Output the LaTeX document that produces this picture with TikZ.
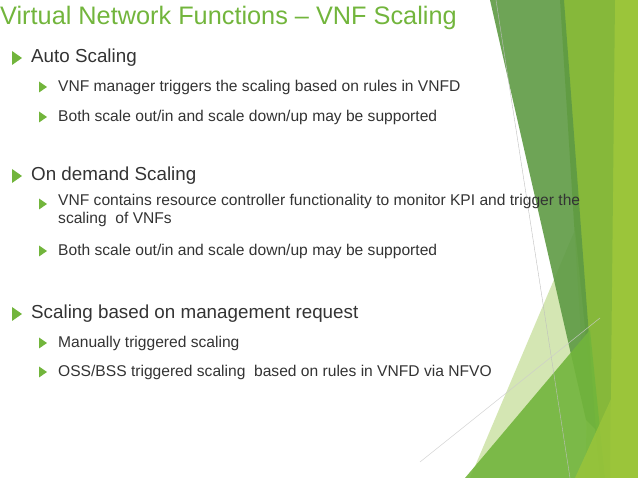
\documentclass[tikz,border=0pt]{standalone}
\usepackage{fontspec}
\setmainfont{Liberation Sans}
\begin{document}
\begin{tikzpicture}[x=1pt,y=-1pt]
\definecolor{tg}{HTML}{72B53C}
\definecolor{dg}{HTML}{5E9A44}
\definecolor{mg}{HTML}{86B83A}
\definecolor{lg}{HTML}{9BC53A}
\definecolor{pg}{HTML}{C9E0A0}
\tikzset{l1/.style={anchor=west,font=\fontsize{18.8}{22}\selectfont,text=black!80,inner sep=0},
 l2/.style={anchor=west,font=\fontsize{15.6}{18}\selectfont,text=black!80,inner sep=0,align=left},
 tri/.style={fill=tg}}
\useasboundingbox (0,0) rectangle (638,478);
\fill[lg] (600,0) -- (638,0) -- (638,478) -- (585,478) -- cycle;
\fill[mg] (560,0) -- (615,0) -- (610,478) -- (590,478) -- cycle;
\fill[pg,opacity=0.8] (470,478) -- (575,230) -- (600,478) -- cycle;
\fill[dg,opacity=0.9] (490,0) -- (564,0) -- (596,430) -- (586,420) -- cycle;
\fill[tg,opacity=0.9] (465,478) -- (590,330) -- (605,478) -- cycle;
\fill[lg,opacity=0.8] (575,478) -- (638,340) -- (638,478) -- cycle;
\draw[black!25,line width=0.4pt] (496,0) -- (570,478);
\draw[black!20,line width=0.4pt] (420,462) -- (600,318);
\node[anchor=west,inner sep=0,text=tg,font=\fontsize{25.3}{28}\selectfont] (t) at (0,18) {Virtual Network Functions – VNF Scaling};
\foreach \y in {58,176,314}{\fill[tri] (12,\y-7) -- (22,\y) -- (12,\y+7) -- cycle;}
\foreach \y in {87,117,204,251,343,372}{\fill[tri] (39,\y-5.5) -- (47,\y) -- (39,\y+5.5) -- cycle;}
\node[l1] (a) at (31,58) {Auto Scaling};
\node[l2] (a1) at (58,87) {VNF manager triggers the scaling based on rules in VNFD};
\node[l2] (a2) at (58,117) {Both scale out/in and scale down/up may be supported};
\node[l1] (b) at (31,176) {On demand Scaling};
\node[l2,anchor=north west] (b1) at (58,194) {VNF contains resource controller functionality to monitor KPI and trigger the\\scaling\ \ of VNFs};
\node[l2] (b2) at (58,251) {Both scale out/in and scale down/up may be supported};
\node[l1] (c) at (31,314) {Scaling based on management request};
\node[l2] (c1) at (58,343) {Manually triggered scaling};
\node[l2] (c2) at (58,372) {OSS/BSS triggered scaling\ \ based on rules in VNFD via NFVO};
\end{tikzpicture}
\end{document}
